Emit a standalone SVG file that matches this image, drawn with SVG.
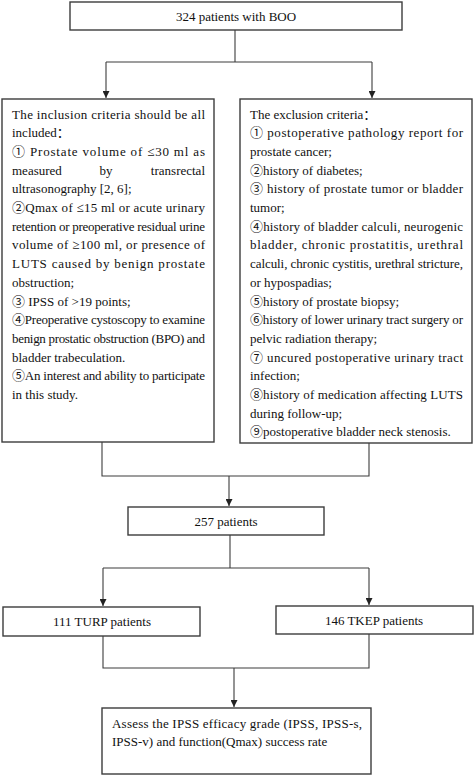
<svg xmlns="http://www.w3.org/2000/svg" width="474" height="775" viewBox="0 0 474 775">
<style>
.box{fill:#fff;stroke:#3c3c3c;stroke-width:1.4}
.ln{fill:none;stroke:#3c3c3c;stroke-width:1.1}
text{font-family:"Liberation Serif","Noto Sans CJK SC",serif;font-size:13px;fill:#111}
.c{text-anchor:middle}
</style>
<defs>
<marker id="ar" viewBox="0 0 8 8" refX="8" refY="4" markerWidth="7" markerHeight="7" markerUnits="userSpaceOnUse" orient="auto">
<path d="M0,0 L8,4 L0,8 Z" fill="#222"/>
</marker>
</defs>
<rect width="474" height="775" fill="#fff"/>
<g id="connectors">
<path class="ln" d="M235,30 V62 M106,62 H372"/>
<path class="ln" d="M106,62 V98" marker-end="url(#ar)"/>
<path class="ln" d="M372,62 V98" marker-end="url(#ar)"/>
<path class="ln" d="M102,442 V476 H369 V443"/>
<path class="ln" d="M229,476 V506" marker-end="url(#ar)"/>
<path class="ln" d="M230,535 V568 M103,568 H369"/>
<path class="ln" d="M103,568 V606" marker-end="url(#ar)"/>
<path class="ln" d="M369,568 V605" marker-end="url(#ar)"/>
<path class="ln" d="M103,636 V668 H369 V634"/>
<path class="ln" d="M234,668 V707" marker-end="url(#ar)"/>
</g>
<g id="n_top">
<rect class="box" x="70" y="2" width="332" height="28"/>
<text class="c" x="236" y="20.5">324 patients with BOO</text>
</g>
<g id="n_inclusion">
<rect class="box" x="2" y="99" width="212" height="343"/>
<text x="12" y="118.5" textLength="193" lengthAdjust="spacing">The inclusion criteria should be all</text>
<text x="12" y="137.2">included：</text>
<text x="12" y="155.9" textLength="193" lengthAdjust="spacing">① Prostate volume of ≤30 ml as</text>
<text x="12" y="174.6">measured</text>
<text x="106" y="174.6" class="c">by</text>
<text x="205" y="174.6" text-anchor="end">transrectal</text>
<text x="12" y="193.3">ultrasonography [2, 6];</text>
<text x="12" y="212" textLength="193" lengthAdjust="spacing">②Qmax of ≤15 ml or acute urinary</text>
<text x="12" y="230.7" textLength="193" lengthAdjust="spacing">retention or preoperative residual urine</text>
<text x="12" y="249.4" textLength="193" lengthAdjust="spacing">volume of ≥100 ml, or presence of</text>
<text x="12" y="268.1" textLength="193" lengthAdjust="spacing">LUTS caused by benign prostate</text>
<text x="12" y="286.8">obstruction;</text>
<text x="12" y="305.5">③  IPSS of &gt;19 points;</text>
<text x="12" y="324.2" textLength="193" lengthAdjust="spacing">④Preoperative cystoscopy to examine</text>
<text x="12" y="342.9" textLength="193" lengthAdjust="spacing">benign prostatic obstruction (BPO) and</text>
<text x="12" y="361.6">bladder trabeculation.</text>
<text x="12" y="380.3" textLength="193" lengthAdjust="spacing">⑤An interest and ability to participate</text>
<text x="12" y="399">in this study.</text>
</g>
<g id="n_exclusion">
<rect class="box" x="240" y="99" width="232" height="344"/>
<text x="250" y="118.5">The exclusion criteria：</text>
<text x="250" y="137.2" textLength="213" lengthAdjust="spacing">① postoperative pathology report for</text>
<text x="250" y="155.9">prostate cancer;</text>
<text x="250" y="174.6">②history of diabetes;</text>
<text x="250" y="193.3" textLength="213" lengthAdjust="spacing">③ history of prostate tumor or bladder</text>
<text x="250" y="212">tumor;</text>
<text x="250" y="230.7" textLength="213" lengthAdjust="spacing">④history of bladder calculi, neurogenic</text>
<text x="250" y="249.4" textLength="213" lengthAdjust="spacing">bladder, chronic prostatitis, urethral</text>
<text x="250" y="268.1" textLength="213" lengthAdjust="spacing">calculi, chronic cystitis, urethral stricture,</text>
<text x="250" y="286.8">or hypospadias;</text>
<text x="250" y="305.5">⑤history of prostate biopsy;</text>
<text x="250" y="324.2" textLength="213" lengthAdjust="spacing">⑥history of lower urinary tract surgery or</text>
<text x="250" y="342.9">pelvic radiation therapy;</text>
<text x="250" y="361.6" textLength="213" lengthAdjust="spacing">⑦ uncured postoperative urinary tract</text>
<text x="250" y="380.3">infection;</text>
<text x="250" y="399" textLength="213" lengthAdjust="spacing">⑧history of medication affecting LUTS</text>
<text x="250" y="417.7">during follow-up;</text>
<text x="250" y="436.4">⑨postoperative bladder neck stenosis.</text>
</g>
<g id="n_257">
<rect class="box" x="128" y="507" width="196" height="28"/>
<text class="c" x="226" y="525.5">257 patients</text>
</g>
<g id="n_turp">
<rect class="box" x="3" y="607" width="197" height="29"/>
<text class="c" x="102" y="626">111 TURP patients</text>
</g>
<g id="n_tkep">
<rect class="box" x="276" y="606" width="197" height="28"/>
<text class="c" x="374" y="625">146 TKEP patients</text>
</g>
<g id="n_assess">
<rect class="box" x="102" y="708" width="269" height="66"/>
<text x="112" y="727.5" textLength="250" lengthAdjust="spacing">Assess the IPSS efficacy grade (IPSS, IPSS-s,</text>
<text x="112" y="745.5">IPSS-v) and function(Qmax) success rate</text>
</g>
</svg>
